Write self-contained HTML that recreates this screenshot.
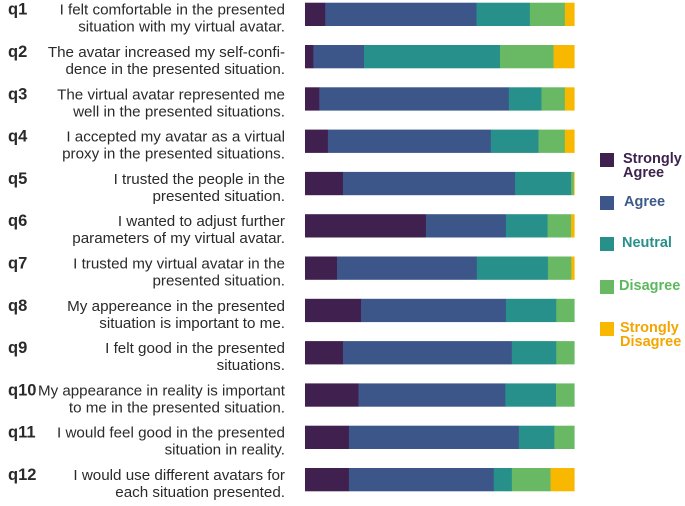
<!DOCTYPE html>
<html><head><meta charset="utf-8"><style>
body{margin:0;background:#fff;width:685px;height:501px;overflow:hidden;font-family:"Liberation Sans",sans-serif}
svg text{font-family:"Liberation Sans",sans-serif}
</style></head><body>
<svg id="chart" width="685" height="501" xmlns="http://www.w3.org/2000/svg"></svg>
<script>
const questions=["q1","q2","q3","q4","q5","q6","q7","q8","q9","q10","q11","q12"];
const labelLine1=["I felt comfortable in the presented","The avatar increased my self-confi-","The virtual avatar represented me","I accepted my avatar as a virtual","I trusted the people in the","I wanted to adjust further","I trusted my virtual avatar in the","My appereance in the presented","I felt good in the presented","My appearance in reality is important","I would feel good in the presented","I would use different avatars for"];
const labelLine2=["situation with my virtual avatar.","dence in the presented situation.","well in the presented situations.","proxy in the presented situations.","presented situation.","parameters of my virtual avatar.","presented situation.","situation is important to me.","situations.","to me in the presented situation.","situation in reality.","each situation presented."];
const stronglyAgree=[7.5,3.1,5.3,8.5,14.1,44.9,11.9,20.8,14.1,19.9,16.3,16.3];
const agree=[56.2,18.8,70.4,60.5,63.9,29.7,51.9,53.8,62.7,54.5,63.1,53.8];
const neutral=[19.8,50.5,12.1,17.7,20.8,15.5,26.4,18.7,16.5,18.8,13.2,6.7];
const disagree=[13.0,19.9,8.7,9.8,1.0,8.7,8.7,6.7,6.7,6.8,7.4,14.4];
const stronglyDisagree=[3.5,7.7,3.5,3.5,0.2,1.2,1.1,0,0,0,0,8.8];
const seriesNames=["Strongly Agree","Agree","Neutral","Disagree","Strongly Disagree"];
const series=[stronglyAgree,agree,neutral,disagree,stronglyDisagree];
const colors=["#40204f","#3c568a","#27908a","#69b964","#f9b800"];
const textColors=["#3d2350","#3d5a8a","#27908a","#5cb85c","#f5a500"];
const NS="http://www.w3.org/2000/svg";
const svg=document.getElementById('chart');
const x0=305,xw=269.3,y0=2.7,step=42.3,bh=23.3;
const xs=v=>v/100*xw;
const yRow=i=>y0+i*step;
function mk(tag,attrs){const e=document.createElementNS(NS,tag);for(const k in attrs)e.setAttribute(k,attrs[k]);svg.appendChild(e);return e;}
function fit(t){const L=t.getComputedTextLength();if(L>247){t.setAttribute('textLength',247);t.setAttribute('lengthAdjust','spacingAndGlyphs');}}
questions.forEach((q,i)=>{
  const y=yRow(i);
  const t1=mk('text',{x:8,y:y+12,'font-size':16.5,'font-weight':'bold',fill:'#2a2a2a'});t1.textContent=q;
  
  
  const a=mk('text',{x:285,y:y+12,'font-size':15.2,fill:'#2a2a2a','text-anchor':'end'});a.textContent=labelLine1[i];
  
  
  fit(a);
  const b=mk('text',{x:285,y:y+29,'font-size':15.2,fill:'#2a2a2a','text-anchor':'end'});b.textContent=labelLine2[i];
  
  
  fit(b);
  let cx=x0;
  series.forEach((s,k)=>{
    const w=xs(s[i]);
    if(w<=0)return;
    const r=mk('rect',{x:cx,y:y,width:w+0.3,height:bh,fill:colors[k]});
    
    
    cx+=w;
  });
});
const legY=[153,196,237,280,322];
seriesNames.forEach((n,k)=>{
  const r=mk('rect',{x:600,y:legY[k],width:14,height:14,fill:colors[k]});
  
  
  const parts=n.split(' ');
  const tx=[623,624,622,619,620][k];
  if(parts.length===2){
    const t=mk('text',{x:tx,y:legY[k]+10,'font-size':14.5,'font-weight':'bold',fill:textColors[k]});
    t.textContent=parts[0];
    
    
    const t2=mk('text',{x:tx,y:legY[k]+24,'font-size':14.5,'font-weight':'bold',fill:textColors[k]});
    t2.textContent=parts[1];
    
    
  }else{
    const t=mk('text',{x:tx,y:legY[k]+10,'font-size':14.5,'font-weight':'bold',fill:textColors[k]});
    t.textContent=n;
    
    
  }
});
</script>
</body></html>
